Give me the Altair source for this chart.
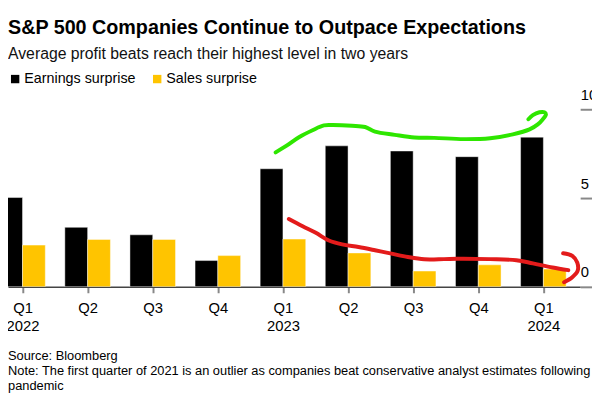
import json
import altair as alt
import pandas as pd

# ---------------- data ----------------
quarters = ["Q1", "Q2", "Q3", "Q4", "Q1", "Q2", "Q3", "Q4", "Q1"]
years = ["2022", "", "", "", "2023", "", "", "", "2024"]
earnings_surprise = [5.03, 3.35, 2.93, 1.48, 6.65, 7.94, 7.65, 7.33, 8.43]
sales_surprise = [2.35, 2.67, 2.67, 1.76, 2.69, 1.91, 0.89, 1.24, 1.00]
series_names = ["Earnings surprise", "Sales surprise"]
series_colors = ["#000000", "#ffc400"]
y_ticks = [0, 5, 10]

# hand-drawn annotation strokes, in data units (quarter index, value)
green_x = [3.888, 4.050, 4.252, 4.455, 4.630, 4.758, 5.061, 5.262, 5.414, 5.717,
           6.020, 6.323, 6.777, 7.182, 7.530, 7.788, 7.914, 7.989, 8.039, 8.015,
           7.939, 7.838, 7.770]
green_y = [7.57, 7.94, 8.44, 8.82, 9.09, 9.11, 9.07, 9.00, 8.74, 8.56,
           8.41, 8.39, 8.32, 8.37, 8.59, 8.87, 9.15, 9.43, 9.71, 9.83,
           9.83, 9.67, 9.44]
red_main_x = [4.091, 4.303, 4.505, 4.706, 4.909, 5.161, 5.414, 5.667, 5.918,
              6.171, 6.474, 6.676, 7.182, 7.585, 7.838, 8.141, 8.383]
red_main_y = [3.82, 3.41, 3.04, 2.61, 2.39, 2.24, 2.06, 1.87, 1.68,
              1.55, 1.56, 1.58, 1.56, 1.50, 1.32, 1.09, 0.94]
red_hook_x = [8.303, 8.444, 8.520, 8.527, 8.444, 8.318]
red_hook_y = [1.89, 1.74, 1.37, 0.91, 0.54, 0.26]

title_text = "S&P 500 Companies Continue to Outpace Expectations"
subtitle_text = "Average profit beats reach their highest level in two years"
footer_lines = [
    "Source: Bloomberg",
    "Note: The first quarter of 2021 is an outlier as companies beat conservative analyst estimates following the",
    "pandemic",
]

FONT = "Liberation Sans"

# ---------------- tables ----------------
rows = []
for i in range(len(quarters)):
    rows.append({"idx": i, "series": series_names[0], "value": earnings_surprise[i]})
    rows.append({"idx": i, "series": series_names[1], "value": sales_surprise[i]})
bar_df = pd.DataFrame(rows)

scrib_rows = []
for name, col, xs, ys in [
    ("green", "#2ee600", green_x, green_y),
    ("red_main", "#e31b1b", red_main_x, red_main_y),
    ("red_hook", "#e31b1b", red_hook_x, red_hook_y),
]:
    for k, (xv, yv) in enumerate(zip(xs, ys)):
        scrib_rows.append({"stroke_id": name, "col": col, "ord": k, "x": xv, "y": yv})
scrib_df = pd.DataFrame(scrib_rows)

label_lines = [[q, y] if y else [q] for q, y in zip(quarters, years)]
label_expr = json.dumps(label_lines) + "[round(datum.value)]"

xscale = alt.Scale(domain=[-0.223, 8.565], nice=False, zero=False)
yscale = alt.Scale(domain=[0, 10], nice=False)

xaxis = alt.Axis(
    values=list(range(len(quarters))), labelExpr=label_expr, title=None, grid=False,
    domainColor="#444444", domainWidth=1.5, tickColor="#888888", tickWidth=2, tickSize=6,
    labelFontSize=15, labelColor="#000000", labelPadding=8, labelBaseline="top",
    labelLineHeight=18.5, labelFlush=False, labelOverlap=False, labelFont=FONT,
)
yaxis = alt.Axis(
    orient="right", values=y_ticks, title=None, grid=False, domain=False,
    tickColor="#888888", tickWidth=2, tickSize=14, labelPadding=-14, labelAlign="left",
    labelBaseline="alphabetic", labelOffset=-10, labelFontSize=15, labelColor="#000000",
    labelFont=FONT,
)

bars = (
    alt.Chart(bar_df)
    .transform_calculate(
        x0="datum.idx - (datum.series == '" + series_names[0] + "' ? 0.35 : 0)",
    )
    .transform_calculate(x1="datum.x0 + 0.35")
    .mark_bar(clip=True, stroke="white", strokeOpacity=0.45, strokeWidth=1)
    .encode(
        x=alt.X("x0:Q", scale=xscale, axis=xaxis, title=None),
        x2="x1:Q",
        y=alt.Y("value:Q", scale=yscale, axis=yaxis, title=None),
        y2=alt.datum(0),
        color=alt.Color(
            "series:N",
            scale=alt.Scale(domain=series_names, range=series_colors),
            legend=alt.Legend(
                orient="none", legendX=0, legendY=-38, direction="horizontal", title=None,
                symbolType="square", symbolSize=72, symbolStrokeWidth=0,
                labelFontSize=14.5, labelColor="#000000", labelOffset=2,
                columnPadding=14, padding=0, labelFont=FONT,
            ),
        ),
    )
)

lines = (
    alt.Chart(scrib_df)
    .mark_line(strokeWidth=4, strokeCap="round", strokeJoin="round",
               interpolate="catmull-rom")
    .encode(
        x=alt.X("x:Q", scale=xscale, title=None),
        y=alt.Y("y:Q", scale=yscale, title=None),
        detail="stroke_id:N",
        order=alt.Order("ord:Q"),
        stroke=alt.Stroke("col:N", scale=None),
    )
)

footer = (
    alt.Chart(pd.DataFrame({"a": [0]}))
    .mark_text(align="left", baseline="alphabetic", fontSize=13, lineHeight=15.5,
               color="#000000", font=FONT)
    .encode(x=alt.value(0), y=alt.value(254), text=alt.value(footer_lines))
)

chart = (
    alt.layer(bars, lines, footer)
    .properties(
        width=580,
        height=180,
        padding={"left": 0, "top": 100, "right": 12, "bottom": 108},
        autosize=alt.AutoSizeParams(type="none"),
        title=alt.TitleParams(
            text=title_text, subtitle=subtitle_text, anchor="start", frame="group",
            fontSize=20, fontWeight="bold", color="#000000", font=FONT,
            subtitleFontSize=16, subtitleColor="#111111", subtitleFont=FONT,
            subtitlePadding=8, offset=10,
        ),
    )
    .configure(font=FONT, background="white")
    .configure_view(stroke=None)
)

chart.save("out.html", embed_options={"renderer": "svg", "actions": False})
